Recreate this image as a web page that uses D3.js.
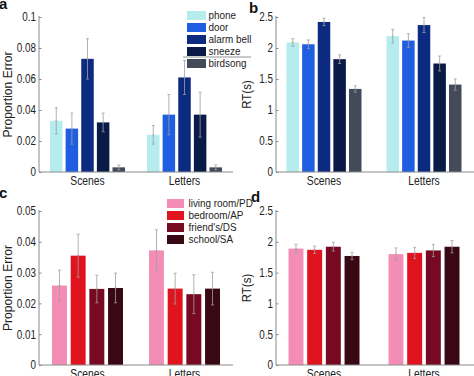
<!DOCTYPE html>
<html>
<head>
<meta charset="utf-8">
<script src="https://cdn.jsdelivr.net/npm/d3@7"></script>
<style>
  body { margin: 0; background: #fff; }
  svg { display: block; font-family: "Liberation Sans", Arial, sans-serif; }
</style>
</head>
<body>
<svg id="chart" width="474" height="376"></svg>
<script>
// groups on the x axis
const groups = ["Scenes", "Letters"];

// top row: sounds
const soundNames = ["phone", "door", "alarm bell", "sneeze", "birdsong"];
const soundColors = ["#b5ecee", "#1f5ee0", "#0c2a80", "#0a1a48", "#434b5b"];
const soundErrMean = [[0.033, 0.028, 0.073, 0.032, 0.003], [0.024, 0.037, 0.061, 0.037, 0.003]];
const soundErrSem = [[0.0085, 0.010, 0.013, 0.006, 0.0015], [0.006, 0.013, 0.011, 0.0145, 0.0015]];
const soundRtMean = [[2.09, 2.06, 2.42, 1.82, 1.34], [2.19, 2.12, 2.37, 1.75, 1.41]];
const soundRtSem = [[0.06, 0.07, 0.06, 0.07, 0.05], [0.11, 0.11, 0.12, 0.12, 0.09]];

// bottom row: places
const placeNames = ["living room/PD", "bedroom/AP", "friend's/DS", "school/SA"];
const placeColors = ["#f48db6", "#e0141f", "#770a22", "#3a0814"];
const placeErrMean = [[0.0258, 0.0355, 0.0247, 0.025], [0.0372, 0.0248, 0.023, 0.0248]];
const placeErrSem = [[0.005, 0.007, 0.0045, 0.0048], [0.0067, 0.005, 0.0063, 0.0053]];
const placeRtMean = [[1.89, 1.87, 1.92, 1.77], [1.80, 1.82, 1.86, 1.92]];
const placeRtSem = [[0.07, 0.06, 0.07, 0.06], [0.10, 0.09, 0.10, 0.10]];

// tick values
const errTicksA = [0, 0.02, 0.04, 0.06, 0.08, 0.1];
const errTicksC = [0, 0.01, 0.02, 0.03, 0.04, 0.05];
const rtTicks = [0, 0.5, 1, 1.5, 2, 2.5];

const svg = d3.select("#chart");
const axisColor = "#8a8a8a";
const textColor = "#222";

//  the original text is a narrow face, so squeeze the text horizontally
const tickSqueeze = 0.82;
const labelSqueeze = 0.86;
const legendSqueeze = 0.9;

function drawPanel(p) {
    const g = svg.append("g");

    const x = d3.scalePoint().domain(groups).range([p.gx0, p.gx1]).padding(0.5);
    const inner = d3.scaleBand().domain(d3.range(p.names.length))
        .range([-p.groupWidth / 2, p.groupWidth / 2]).paddingInner(0.2);
    const y = d3.scaleLinear().domain([0, p.yMax]).range([p.yBot, p.yTop]);

    //  bars
    groups.forEach((grp, gi) => {
        const gg = g.append("g").attr("transform", `translate(${x(grp)},0)`);
        gg.selectAll("rect").data(p.means[gi]).join("rect")
            .attr("x", (d, i) => inner(i))
            .attr("width", inner.bandwidth())
            .attr("y", d => y(d))
            .attr("height", d => y(0) - y(d))
            .attr("fill", (d, i) => p.colors[i]);

        //  error bars
        const eb = gg.selectAll("g.eb").data(p.means[gi]).join("g").attr("class", "eb")
            .attr("transform", (d, i) => `translate(${inner(i) + inner.bandwidth() / 2},0)`)
            .attr("stroke", "#a0a0a0").attr("stroke-width", 1).attr("opacity", 0.8);
        eb.append("line")
            .attr("y1", (d, i) => y(d - p.sems[gi][i]))
            .attr("y2", (d, i) => y(d + p.sems[gi][i]));
        eb.append("line").attr("x1", -1.5).attr("x2", 1.5)
            .attr("y1", (d, i) => y(d + p.sems[gi][i])).attr("y2", (d, i) => y(d + p.sems[gi][i]));
        eb.append("line").attr("x1", -1.5).attr("x2", 1.5)
            .attr("y1", (d, i) => y(d - p.sems[gi][i])).attr("y2", (d, i) => y(d - p.sems[gi][i]));
        eb.append("line").attr("x1", -1).attr("x2", 1)
            .attr("y1", d => y(d)).attr("y2", d => y(d));
    });

    //  y axis
    const yAxis = g.append("g").attr("transform", `translate(${p.ax0},0)`)
        .call(d3.axisLeft(y).tickValues(p.ticks).tickSizeInner(-2.5).tickSizeOuter(0)
            .tickFormat(d3.format("~g")));
    yAxis.select(".domain").attr("stroke", axisColor)
        .attr("d", `M0,${p.yBot}V${p.yTop - 1}`);
    yAxis.selectAll(".tick line").attr("stroke", axisColor);
    yAxis.selectAll(".tick text").attr("fill", textColor).attr("font-size", 12)
        .attr("x", -3 / tickSqueeze).attr("transform", `scale(${tickSqueeze},1)`);

    //  x axis baseline
    g.append("line").attr("x1", p.ax0).attr("x2", p.ax1)
        .attr("y1", p.yBot).attr("y2", p.yBot).attr("stroke", axisColor);
    g.selectAll("text.grp").data(groups).join("text").attr("class", "grp")
        .attr("transform", d => `translate(${x(d)},${p.yBot + 12.5}) scale(${labelSqueeze},1)`)
        .attr("text-anchor", "middle").attr("font-size", 12).attr("fill", textColor)
        .text(d => d);

    //  y label
    g.append("text")
        .attr("transform", `translate(${p.labelX},${(p.yTop + p.yBot) / 2}) rotate(-90) scale(${p.labelSqueeze},1)`)
        .attr("text-anchor", "middle").attr("font-size", 13).attr("fill", textColor)
        .text(p.yLabel);

    //  panel letter
    g.append("text").attr("x", p.letterX).attr("y", p.letterY)
        .attr("font-size", 15).attr("font-weight", "bold").attr("fill", "#111")
        .text(p.letter);
}

function drawLegend(names, colors, lx, ly, sw, sh, pitch, gap) {
    const lg = svg.append("g").attr("transform", `translate(${lx},${ly})`);
    const row = lg.selectAll("g").data(names).join("g")
        .attr("transform", (d, i) => `translate(0,${i * pitch})`);
    row.append("rect").attr("width", sw).attr("height", sh)
        .attr("fill", (d, i) => colors[i]);
    row.append("text")
        .attr("transform", `translate(${sw + gap},${sh / 2}) scale(${legendSqueeze},1)`)
        .attr("dy", "0.36em")
        .attr("font-size", 11).attr("fill", textColor).text(d => d);
    return lg;
}

drawPanel({ letter: "a", letterX: -1, letterY: 8.5, names: soundNames, colors: soundColors,
    means: soundErrMean, sems: soundErrSem, yMax: 0.1, ticks: errTicksA,
    yTop: 17, yBot: 172, ax0: 39, ax1: 233, gx0: 39, gx1: 233, groupWidth: 75,
    yLabel: "Proportion Error", labelX: 12, labelSqueeze: 0.93 });
drawPanel({ letter: "b", letterX: 249, letterY: 12.5, names: soundNames, colors: soundColors,
    means: soundRtMean, sems: soundRtSem, yMax: 2.5, ticks: rtTicks,
    yTop: 17, yBot: 172, ax0: 276, ax1: 474, gx0: 274, gx1: 474, groupWidth: 75,
    yLabel: "RT(s)", labelX: 251, labelSqueeze: 0.88 });
drawPanel({ letter: "c", letterX: -1, letterY: 198, names: placeNames, colors: placeColors,
    means: placeErrMean, sems: placeErrSem, yMax: 0.05, ticks: errTicksC,
    yTop: 211, yBot: 365, ax0: 39, ax1: 233, gx0: 39, gx1: 233, groupWidth: 71,
    yLabel: "Proportion Error", labelX: 12, labelSqueeze: 0.93 });
drawPanel({ letter: "d", letterX: 251, letterY: 202, names: placeNames, colors: placeColors,
    means: placeRtMean, sems: placeRtSem, yMax: 2.5, ticks: rtTicks,
    yTop: 211, yBot: 365, ax0: 276, ax1: 474, gx0: 274, gx1: 474, groupWidth: 71,
    yLabel: "RT(s)", labelX: 251, labelSqueeze: 0.88 });

drawLegend(soundNames, soundColors, 187, 11, 19, 9, 12, 2.5);
//  stray separator line under "sneeze" in the original legend
svg.append("line").attr("x1", 183).attr("x2", 251).attr("y1", 57).attr("y2", 57)
    .attr("stroke", "#777").attr("stroke-width", 0.8);
drawLegend(placeNames, placeColors, 167, 199, 17, 9, 12, 4.5);
</script>
</body>
</html>
